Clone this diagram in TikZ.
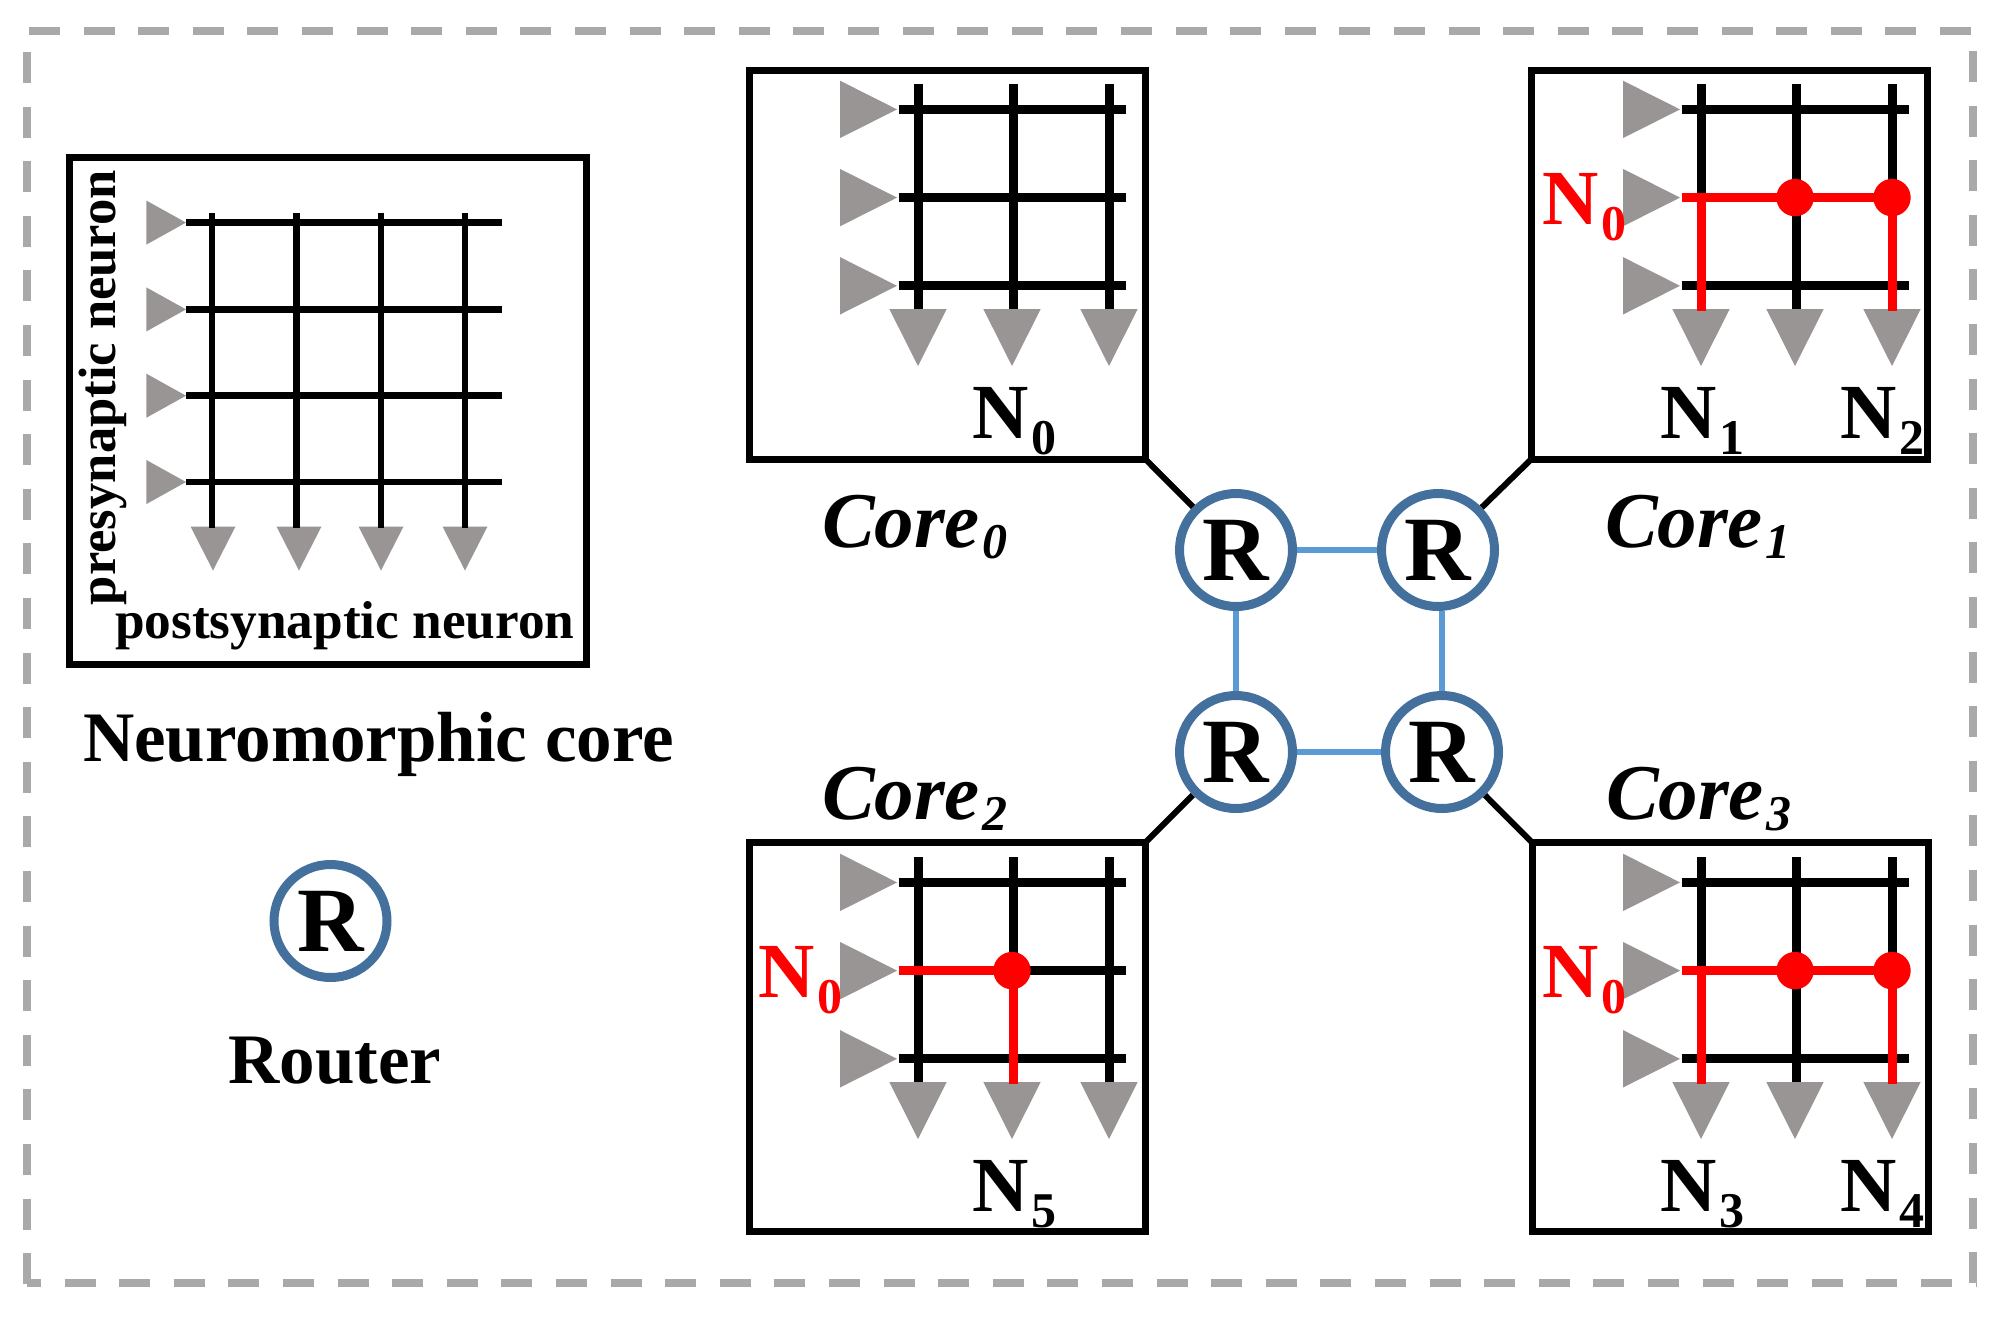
\documentclass[tikz,border=0pt]{standalone}
\usepackage{fontspec}
\setmainfont{Liberation Serif}
\definecolor{framegray}{HTML}{A9A9A9}
\definecolor{trigray}{HTML}{989594}
\definecolor{routerblue}{HTML}{44709D}
\definecolor{linkblue}{HTML}{5B9BD5}
\definecolor{hotred}{HTML}{FF0000}
\tikzset{
  frameline/.style={draw=framegray,line width=7.5pt,dash pattern=on 31pt off 23.6pt},
  corebox/.style={draw=black,line width=7pt,rectangle,inner sep=0pt,outer sep=0pt},
  wire/.style={draw=black,line width=9pt},
  thinwire/.style={draw=black,line width=6.5pt},
  redwire/.style={draw=hotred,line width=9pt},
  tri/.style={fill=trigray,draw=none},
  dot/.style={fill=hotred,draw=none},
  router/.style={circle,draw=routerblue,line width=9pt,fill=white,minimum size=113pt,inner sep=0pt,
    font=\fontsize{92}{92}\selectfont\bfseries},
  link/.style={draw=linkblue,line width=6pt},
  tie/.style={draw=black,line width=6pt},
  lab/.style={anchor=base west,inner sep=0pt,outer sep=0pt},
}
% name, x, y, subscript, colour
\newcommand{\Nlab}[5]{\node[lab,text=#5] (#1) at (#2,#3)
  {\fontsize{78}{80}\selectfont\bfseries N\hspace{3pt}\raisebox{-16pt}{\fontsize{50}{50}\selectfont #4}};}
% name, x, y, subscript
\newcommand{\Corelab}[4]{\node[lab] (#1) at (#2,#3)
  {\fontsize{79}{80}\selectfont\bfseries\itshape Core\hspace{2pt}\raisebox{-11pt}{\fontsize{50}{50}\selectfont #4}};}
% the crossbar of one core, drawn at Core0's place and shifted
\newcommand{\Gridtris}{%
  \foreach \yy in {109.4,197.6,285.8}{\fill[tri] (840,\yy-28.7) -- (897,\yy) -- (840,\yy+28.7) -- cycle;}
  \foreach \xx in {918,1012,1109}{\fill[tri] (\xx-28.7,309) -- (\xx+28.7,309) -- (\xx,366) -- cycle;}
}
\newcommand{\Gridlines}{%
  \foreach \yy in {109.4,197.6,285.8}{\draw[wire] (898.5,\yy) -- (1125.5,\yy);}
  \foreach \xx in {918,1013,1109.5}{\draw[wire] (\xx,84) -- (\xx,309);}
}
\begin{document}
\begin{tikzpicture}[x=1pt,y=-1pt]
\path[use as bounding box,fill=white] (0,0) rectangle (2004,1320);

% outer dashed frame
\draw[frameline] (29,31) -- (1977,31);
\draw[frameline] (27,52) -- (27,1287);
\draw[frameline] (1973,51) -- (1973,1287);
\draw[frameline,dash phase=17pt] (27,1283) -- (1977,1283);

% left panel
\node[corebox,minimum width=517pt,minimum height=507pt] (legendcore) at (327.5,410.5) {};
\foreach \yy in {222.6,309.4,395.7,482}{\fill[tri] (146.4,\yy-22) -- (186,\yy) -- (146.4,\yy+22) -- cycle;}
\foreach \xx in {213,299,381,465}{\fill[tri] (\xx-22.5,526.5) -- (\xx+22.5,526.5) -- (\xx,570.5) -- cycle;}
\foreach \yy in {222.6,309.4,395.7,482}{\draw[thinwire] (186,\yy) -- (502,\yy);}
\foreach \xx in {212,296.5,381,465}{\draw[thinwire] (\xx,212.5) -- (\xx,528);}
\node[lab,anchor=base west,rotate=90] (pre) at (115,605) {\fontsize{52.6}{55}\selectfont\bfseries presynaptic neuron};
\node[lab] (post) at (115,638) {\fontsize{53.3}{58}\selectfont\bfseries postsynaptic neuron};
\node[lab] (legendtitle) at (83,761) {\fontsize{71}{75}\selectfont\bfseries Neuromorphic core};
\node[router] (legendR) at (330.5,921) {R};
\node[lab] (legendrouter) at (228.5,1083) {\fontsize{71}{75}\selectfont\bfseries Router};

% core boxes
\node[corebox,minimum width=396pt,minimum height=389pt] (core0) at (947.25,264.5) {};
\node[corebox,minimum width=396pt,minimum height=389pt] (core1) at (1729.5,264.5) {};
\node[corebox,minimum width=396pt,minimum height=389pt] (core2) at (947.25,1037) {};
\node[corebox,minimum width=396pt,minimum height=389pt] (core3) at (1730,1037) {};

% crossbars
\begin{scope}
  \Gridtris \Gridlines
\end{scope}
\begin{scope}[shift={(783,0)}]
  \Gridtris \Gridlines
  \draw[redwire] (898.5,197.6) -- (1109.5,197.6);
  \draw[redwire] (918,197.6) -- (918,311);
  \draw[redwire] (1109.5,197.6) -- (1109.5,311);
  \fill[dot] (1012,197.6) circle (18.7);
  \fill[dot] (1109,197.6) circle (18.7);
\end{scope}
\begin{scope}[shift={(0,773)}]
  \Gridtris \Gridlines
  \draw[redwire] (898.5,197.6) -- (1012,197.6);
  \draw[redwire] (1013,197.6) -- (1013,311);
  \fill[dot] (1012,197.6) circle (18.7);
\end{scope}
\begin{scope}[shift={(783,773)}]
  \Gridtris \Gridlines
  \draw[redwire] (898.5,197.6) -- (1109.5,197.6);
  \draw[redwire] (918,197.6) -- (918,311);
  \draw[redwire] (1109.5,197.6) -- (1109.5,311);
  \fill[dot] (1012,197.6) circle (18.7);
  \fill[dot] (1109,197.6) circle (18.7);
\end{scope}

% routers
\node[router] (R0) at (1236,550) {R};
\node[router] (R1) at (1438,550) {R};
\node[router] (R2) at (1236,752) {R};
\node[router] (R3) at (1442,752) {R};
\draw[link] (R0) -- (R1);
\draw[link] (R0) -- (R2);
\draw[link] (R2) -- (R3);
\draw[link] (R3.north) -- (R3.north |- R1.south);
\draw[tie] (core0.south east) -- (R0);
\draw[tie] (core1.south west) -- (R1);
\draw[tie] (core2.north east) -- (R2);
\draw[tie] (core3.north west) -- (R3);

% labels
\Nlab{n0a}{972.5}{438}{0}{black}
\Nlab{n1}{1660}{438}{1}{black}
\Nlab{n2}{1840}{438}{2}{black}
\Nlab{n0b}{1542}{224.6}{0}{hotred}
\Nlab{n0c}{758}{997.5}{0}{hotred}
\Nlab{n0d}{1542}{997.5}{0}{hotred}
\Nlab{n5}{972}{1211}{5}{black}
\Nlab{n3}{1660}{1211}{3}{black}
\Nlab{n4}{1840}{1211}{4}{black}
\Corelab{c0}{822}{547}{0}
\Corelab{c1}{1605}{547}{1}
\Corelab{c2}{822}{819}{2}
\Corelab{c3}{1606}{819}{3}
\end{tikzpicture}
\end{document}
